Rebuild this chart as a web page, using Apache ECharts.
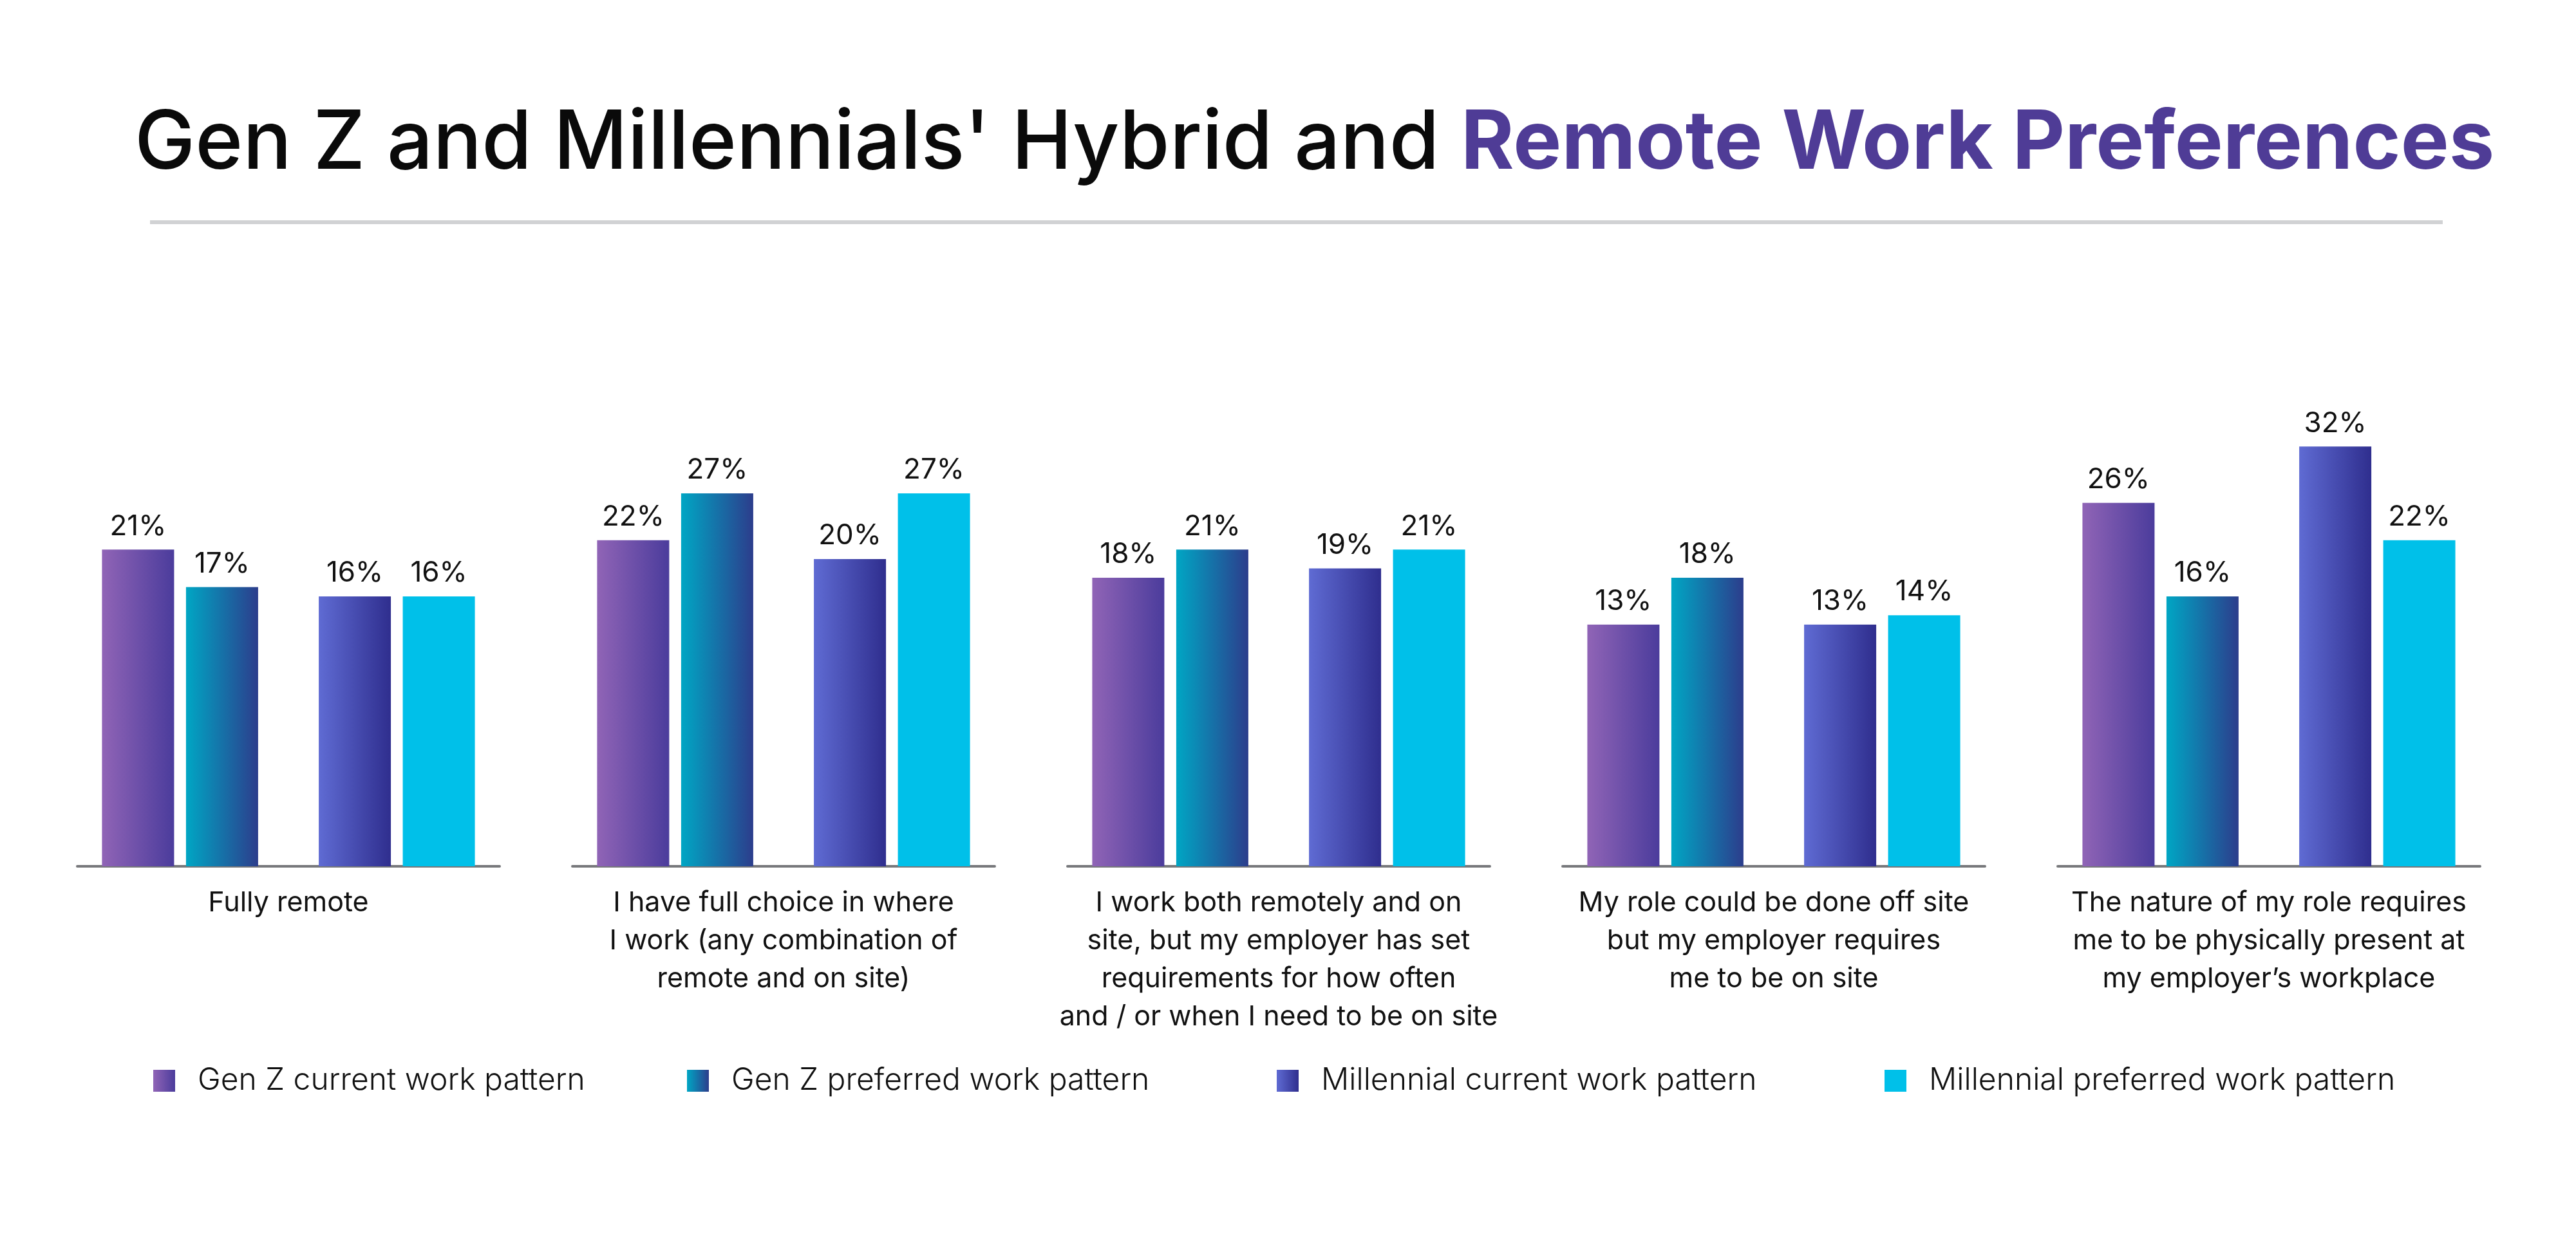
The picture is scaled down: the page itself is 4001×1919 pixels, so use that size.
<!DOCTYPE html>
<html>
<head>
<meta charset="utf-8">
<script src="https://cdn.jsdelivr.net/npm/echarts@6/dist/echarts.min.js"></script>
<style>
  html, body { margin: 0; padding: 0; background: #fff; }
  #main { width: 4001px; height: 1919px; }
</style>
</head>
<body>
<div id="main"></div>
<script>
const categories = [
  'Fully remote',
  'I have full choice in where\nI work (any combination of\nremote and on site)',
  'I work both remotely and on\nsite, but my employer has set\nrequirements for how often\nand / or when I need to be on site',
  'My role could be done off site\nbut my employer requires\nme to be on site',
  'The nature of my role requires\nme to be physically present at\nmy employer\u2019s workplace'
]
const seriesNames = [
  'Gen Z current work pattern',
  'Gen Z preferred work pattern',
  'Millennial current work pattern',
  'Millennial preferred work pattern'
]
const genZCurrent = [21, 22, 18, 13, 26]
const genZPreferred = [17, 27, 21, 18, 16]
const millennialCurrent = [16, 20, 19, 13, 32]
const millennialPreferred = [16, 27, 21, 14, 22]

const values = [genZCurrent, genZPreferred, millennialCurrent, millennialPreferred]
const font = 'Inter, "Noto Sans", sans-serif'

function grad(a, b) {
  return new echarts.graphic.LinearGradient(0, 0, 1, 0, [
    { offset: 0, color: a },
    { offset: 1, color: b }
  ])
}
const colors = [
  grad('#9064b6', '#4b3c9c'),
  grad('#00a6c4', '#2c3d8c'),
  grad('#5f6bd3', '#2f2e8e'),
  '#00c0e9'
]

const chart = echarts.init(document.getElementById('main'), null, { renderer: 'canvas' })

const grids = []
const xAxes = []
const yAxes = []
const series = []

for (let i = 0; i < categories.length; i++) {
  grids.push({ left: 120 + 769 * i, width: 656, top: 577, bottom: 574 })
  xAxes.push({
    type: 'category',
    gridIndex: i,
    data: [categories[i]],
    axisTick: { show: false },
    axisLine: { onZero: false, lineStyle: { color: '#77787b', width: 4 } },
    axisLabel: {
      interval: 0,
      margin: 28,
      fontSize: 43,
      lineHeight: 59,
      color: '#111',
      fontFamily: font
    }
  })
  yAxes.push({
    type: 'value',
    gridIndex: i,
    min: -12.8,
    max: 40,
    startValue: -12.8,
    show: false,
    splitLine: { show: false }
  })

  // order: two Gen Z bars, a blank spacer, two Millennial bars
  const order = [0, 1, -1, 2, 3]
  order.forEach(function (s) {
    if (s < 0) {
      series.push({
        type: 'bar',
        name: 'spacer',
        xAxisIndex: i,
        yAxisIndex: i,
        data: [null],
        barWidth: 65,
        barGap: '16.5%',
        silent: true,
        itemStyle: { color: 'transparent' }
      })
      return
    }
    series.push({
      type: 'bar',
      name: seriesNames[s],
      xAxisIndex: i,
      yAxisIndex: i,
      data: [values[s][i]],
      barWidth: 112,
      barGap: '16.5%',
      itemStyle: { color: colors[s] },
      label: {
        show: true,
        position: 'top',
        distance: 14,
        formatter: '{c}%',
        fontSize: 44,
        color: '#111',
        fontFamily: font
      }
    })
  })
}

// one legend per item so each sits where the reference has it
const legendLeft = [233, 1062, 1978, 2922]
const legends = seriesNames.map(function (name, k) {
  return {
    data: [name],
    left: legendLeft[k],
    top: 1649,
    icon: 'rect',
    itemWidth: 34,
    itemHeight: 34,
    textStyle: {
      fontSize: 48,
      fontWeight: 300,
      color: '#111',
      fontFamily: font,
      padding: [0, 0, 0, 30]
    }
  }
})

const option = {
  backgroundColor: '#fff',
  animation: false,
  title: {
    text: "{a|Gen Z and Millennials' Hybrid and }{b|Remote Work Preferences}",
    left: 204,
    top: 156,
    textStyle: {
      rich: {
        a: { fontSize: 126, fontWeight: 500, color: '#0a0a0a', fontFamily: font },
        b: { fontSize: 126, fontWeight: 700, color: '#4f3c96', fontFamily: font }
      }
    }
  },
  graphic: [{
    type: 'line',
    shape: { x1: 233, y1: 345, x2: 3794, y2: 345 },
    style: { stroke: '#d1d2d4', lineWidth: 6 }
  }],
  legend: legends,
  grid: grids,
  xAxis: xAxes,
  yAxis: yAxes,
  series: series
}

chart.setOption(option)
</script>
</body>
</html>
